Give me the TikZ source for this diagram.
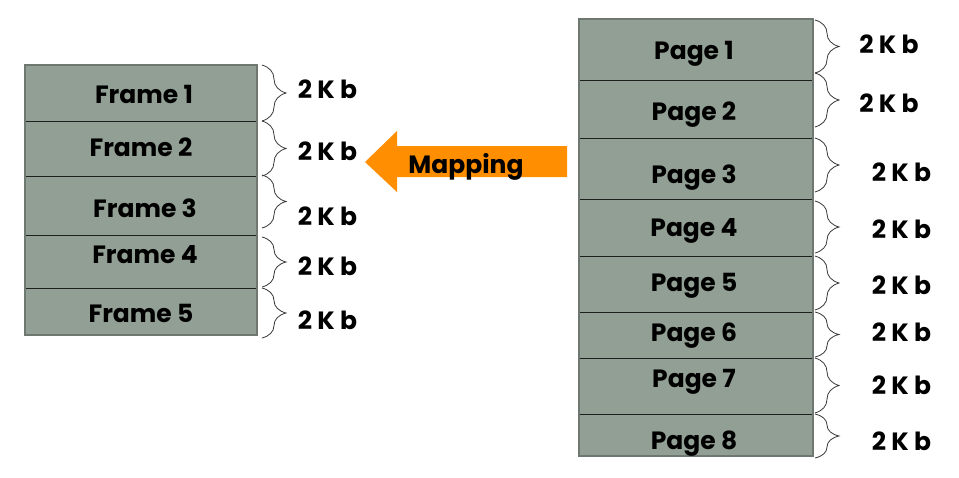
\documentclass[tikz,border=0pt]{standalone}
\usepackage{fontspec}
\setmainfont{Poppins}
\usetikzlibrary{decorations.pathreplacing}
\definecolor{cellfill}{HTML}{929F94}
\definecolor{cellborder}{HTML}{6F7870}
\definecolor{divider}{HTML}{1E1E1E}
\definecolor{maporange}{HTML}{FF8F00}
\definecolor{bracecol}{HTML}{3A3A3A}
\begin{document}
\begin{tikzpicture}[x=1pt,y=-1pt,
  cell/.style={fill=cellfill,draw=divider,line width=0.8pt,inner sep=0pt,outer sep=0pt},
  lbl/.style={font=\bfseries\fontsize{25}{30}\selectfont,anchor=base,inner sep=0pt,text=black},
  membrace/.style={draw=bracecol,line width=0.8pt,decorate,decoration={brace,amplitude=24pt,aspect=0.5}}]
\useasboundingbox[fill=white] (0,0) rectangle (959,477);
% frames
\foreach \i/\t/\b in {1/65/121,2/121/176,3/176/235,4/235/288,5/288/335}
  \node[cell,minimum width=232pt,minimum height={(\b-\t)*1pt}] (f\i) at (141,{(\t+\b)/2}) {};
\draw[cellborder,line width=1.8pt] (f1.north west) rectangle (f5.south east);
% pages
\foreach \i/\t/\b in {1/19/80,2/80/138,3/138/199,4/199/256,5/256/312,6/312/358,7/358/414,8/414/456}
  \node[cell,minimum width=234pt,minimum height={(\b-\t)*1pt}] (p\i) at (696,{(\t+\b)/2}) {};
\draw[cellborder,line width=1.8pt] (p1.north west) rectangle (p8.south east);
% frame labels
\node[lbl] (ft1) at (144,103) {Frame 1};
\node[lbl] (ft2) at (141,156) {Frame 2};
\node[lbl] (ft3) at (145,217) {Frame 3};
\node[lbl] (ft4) at (145,263) {Frame 4};
\node[lbl] (ft5) at (141,322) {Frame 5};
% page labels
\foreach \i/\y in {1/59,2/120,3/183,4/236,5/291,6/341,7/387,8/449}
  \node[lbl] (pt\i) at (694,\y) {Page \i};
% frame braces and sizes
\foreach \i/\t/\b/\y in {1/65/121/98,2/121/176/160,3/175/228/225,4/237/287/275,5/288/338/329}{
  \draw[membrace] (262,\t) -- (262,\b);
  \node[lbl] (fs\i) at (327.5,\y) {2 K b};
}
% page braces and sizes
\foreach \i/\t/\b/\y/\x in {1/20/73/53/889,2/73/127/112/889,3/138/192/181/901.5,4/201/253/238/901.5,5/256/310/294/901.5,6/312/357/341/901.5,7/358/413/394/901.5,8/414/458/450/901.5}{
  \draw[membrace] (815,\t) -- (815,\b);
  \node[lbl] (ps\i) at (\x,\y) {2 K b};
}
% mapping arrow
\fill[maporange] (567,146) -- (397,146) -- (397,131) -- (365,162) -- (397,192) -- (397,177) -- (567,177) -- cycle;
\node[lbl] (map) at (466,173) {Mapping};
\end{tikzpicture}
\end{document}
